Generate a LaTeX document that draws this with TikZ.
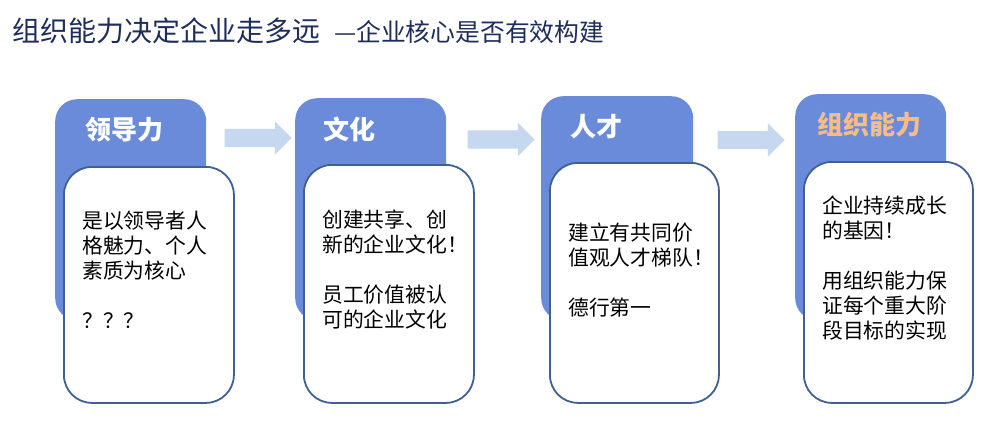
\documentclass[tikz,border=0pt]{standalone}
\usepackage{fontspec}
\setmainfont{Noto Sans CJK SC}
\usetikzlibrary{shapes.arrows}
\definecolor{cardblue}{RGB}{106,139,217}
\definecolor{cardline}{RGB}{63,96,144}
\definecolor{flowblue}{RGB}{198,216,239}
\definecolor{titlenavy}{RGB}{31,45,90}
\definecolor{taborange}{RGB}{248,188,138}
\tikzset{
  tab/.style={fill=cardblue, draw=none, rounded corners=22pt, minimum width=151pt, anchor=north west, inner sep=0},
  sheet/.style={fill=white, draw=cardline, line width=1.8pt, rounded corners=28pt, anchor=north west, inner sep=0},
  tabtext/.style={anchor=west, text=white, font=\fontsize{26}{30}\selectfont\bfseries, inner sep=0},
  sheettext/.style={anchor=north west, align=left, font=\fontsize{20.8}{25}\selectfont, inner sep=0},
  flow/.style={single arrow, fill=flowblue, draw=none, minimum height=67pt, inner xsep=0, inner ysep=9pt, single arrow head extend=7.5pt}
}
\begin{document}
\begin{tikzpicture}[x=1pt, y=-1pt]
  \useasboundingbox (0,0) rectangle (983,447);
  % title
  \node[anchor=west, text=titlenavy, inner sep=0] (title) at (12,31)
    {{\fontsize{28}{32}\selectfont 组织能力决定企业走多远}\hspace{14pt}{\fontsize{24.8}{28}\selectfont —企业核心是否有效构建}};
  % cards
  \node[tab, minimum height=221pt] (lead) at (55,99) {};
  \node[sheet, minimum width=170pt, minimum height=236pt] (leadsheet) at (63,166) {};
  \node[tabtext] (leadtitle) at (85,130) {领导力};
  \node[sheettext] (leadtext) at (82,211) {是以领导者人\\格魅力、个人\\素质为核心\\[25pt]？？？};

  \node[tab, minimum height=222pt] (culture) at (295,98) {};
  \node[sheet, minimum width=170pt, minimum height=238pt] (culturesheet) at (303,164) {};
  \node[tabtext] (culturetitle) at (323,129) {文化};
  \node[sheettext] (culturetext) at (322,210) {创建共享、创\\新的企业文化！\\[25pt]员工价值被认\\可的企业文化};

  \node[tab, minimum width=152pt, minimum height=224pt] (talent) at (541,96) {};
  \node[sheet, minimum width=169pt, minimum height=240pt] (talentsheet) at (549,162) {};
  \node[tabtext] (talenttitle) at (570,127) {人才};
  \node[sheettext] (talenttext) at (568,223) {建立有共同价\\值观人才梯队！\\[25pt]德行第一};

  \node[tab, minimum height=226pt] (org) at (795,94) {};
  \node[sheet, minimum width=169pt, minimum height=241pt] (orgsheet) at (803,161) {};
  \node[tabtext, text=taborange] (orgtitle) at (817,125) {组织能力};
  \node[sheettext] (orgtext) at (822,196) {企业持续成长\\的基因！\\[25pt]用组织能力保\\证每个重大阶\\段目标的实现};
  % arrows
  \node[flow] (flow1) at (253.5,138) {};
  \node[flow] (flow2) at (496.5,139.5) {};
  \node[flow] (flow3) at (746.5,140) {};
\end{tikzpicture}
\end{document}
